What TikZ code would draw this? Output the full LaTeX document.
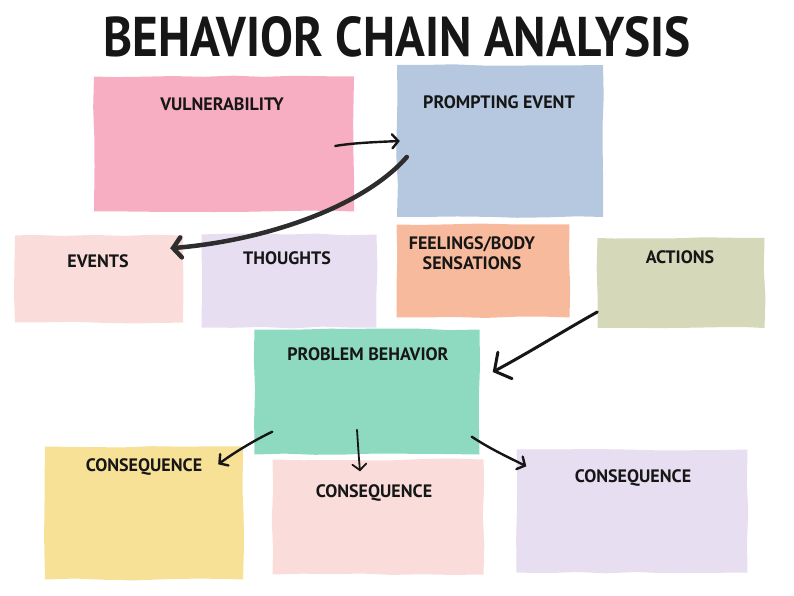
\documentclass[tikz,border=0pt]{standalone}
\usepackage{fontspec}
\setmainfont{PT Sans}
\usepackage{graphicx}
\usetikzlibrary{arrows.meta,decorations.pathmorphing}

\definecolor{vulpink}{RGB}{247,174,194}
\definecolor{promptblue}{RGB}{181,200,224}
\definecolor{softpink}{RGB}{250,221,219}
\definecolor{lavender}{RGB}{232,222,242}
\definecolor{salmon}{RGB}{248,186,156}
\definecolor{sage}{RGB}{213,217,185}
\definecolor{mint}{RGB}{142,218,192}
\definecolor{butter}{RGB}{246,225,150}
\definecolor{ink}{RGB}{22,22,22}

\begin{document}
\pgfmathsetseed{11}
\begin{tikzpicture}[x=1pt, y=-1pt, every node/.style={inner sep=0pt}]
  \tikzset{card/.style={rectangle, inner sep=0pt, decorate, decoration={random steps, segment length=30pt, amplitude=1pt}}}
  \tikzset{lbl/.style={font=\bfseries\fontsize{18}{20.5}\selectfont, align=center, text=ink}}
  \tikzset{link/.style={draw=ink, line width=2.4pt, line cap=round, -{Straight Barb[length=6pt, width=14pt, line cap=round]}}}
  \useasboundingbox (0,0) rectangle (794,596);
  \node[font=\bfseries\fontsize{56}{60}\selectfont, text=ink] (title) at (397,37) {\scalebox{0.88}[1]{BEHAVIOR CHAIN ANALYSIS}};
  % cards
  \node[card, fill=vulpink, minimum width=260pt, minimum height=135pt] (vul) at (224,144) {};
  \node[card, fill=promptblue, minimum width=206pt, minimum height=152pt] (prompt) at (500,141) {};
  \node[card, fill=softpink, minimum width=168pt, minimum height=87pt] (events) at (99,279) {};
  \node[card, fill=lavender, minimum width=175pt, minimum height=93pt] (thoughts) at (289,281) {};
  \node[card, fill=salmon, minimum width=173pt, minimum height=93pt] (feelings) at (483,271) {};
  \node[card, fill=sage, minimum width=167pt, minimum height=90pt] (actions) at (681,283) {};
  \node[card, fill=mint, minimum width=225pt, minimum height=125pt] (problem) at (367,392) {};
  \node[card, fill=butter, minimum width=198pt, minimum height=133pt] (cons1) at (144,513) {};
  \node[card, fill=softpink, minimum width=211pt, minimum height=115pt] (cons2) at (378,517) {};
  \node[card, fill=lavender, minimum width=231pt, minimum height=123pt] (cons3) at (632,511) {};
  % labels
  \node[lbl] (t-vul) at (222,104) {VULNERABILITY};
  \node[lbl] (t-prompt) at (499,102) {PROMPTING EVENT};
  \node[lbl] (t-events) at (98,261) {EVENTS};
  \node[lbl] (t-thoughts) at (287,258) {THOUGHTS};
  \node[lbl] (t-feelings) at (472,253) {FEELINGS/BODY\\SENSATIONS};
  \node[lbl] (t-actions) at (680,257) {ACTIONS};
  \node[lbl] (t-problem) at (368,354) {PROBLEM BEHAVIOR};
  \node[lbl] (t-cons1) at (144,467) {CONSEQUENCE};
  \node[lbl] (t-cons2) at (374,493) {CONSEQUENCE};
  \node[lbl] (t-cons3) at (633,478) {CONSEQUENCE};
  % arrows
  \draw[link] ([shift={(-19,2)}]vul.east) .. controls ([shift={(-45,2)}]prompt.west) and ([shift={(-20,1)}]prompt.west) .. ([xshift=3pt]prompt.west);
  \draw[link, line width=4.5pt, draw={rgb,255:red,45;green,45;blue,45}, -{Straight Barb[length=8pt, width=20pt, line cap=round]}] ([shift={(10,16)}]prompt.west) .. controls (365,205) and (270,240) .. ([shift={(-13,13)}]events.north east);
  \draw[link, line width=3pt, -{Straight Barb[length=12pt, width=30pt, line cap=round]}] ([shift={(0,29)}]actions.west) .. controls (565,330) and (530,352) .. ([shift={(13,-20)}]problem.east);
  \draw[link] ([shift={(18,-23)}]problem.south west) .. controls (255,440) and (235,452) .. ([shift={(-25,18)}]cons1.north east);
  \draw[link, line width=1.8pt] ([shift={(-10,-25)}]problem.south) .. controls (358,445) and (359,460) .. ([shift={(-18,12)}]cons2.north);
  \draw[link] ([shift={(-8,-18)}]problem.south east) .. controls (492,450) and (510,458) .. ([shift={(10,17)}]cons3.north west);
\end{tikzpicture}
\end{document}
